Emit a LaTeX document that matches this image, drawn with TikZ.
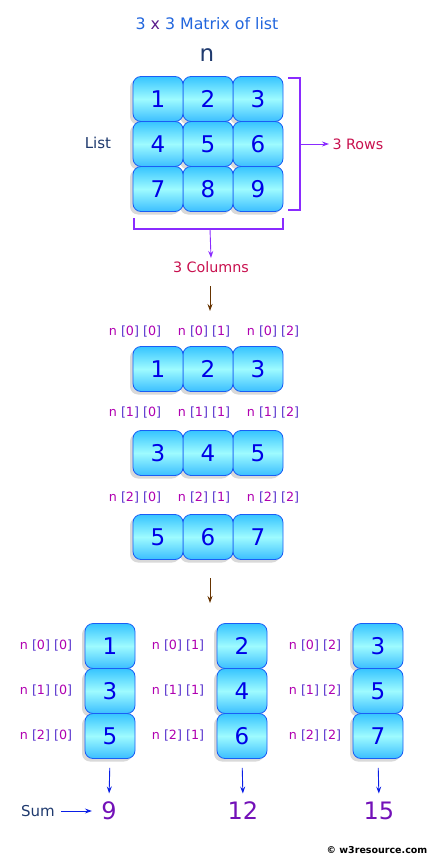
\documentclass[tikz,border=0pt]{standalone}
\usepackage{fontspec}
\setmainfont{DejaVu Sans}
\usetikzlibrary{arrows.meta,shadows}
\definecolor{celltop}{HTML}{36C4FF}
\definecolor{cellmid}{HTML}{9EFBFF}
\definecolor{cellbot}{HTML}{3ABEFF}
\definecolor{cellline}{HTML}{1A5EF5}
\definecolor{cellnum}{HTML}{0000E6}
\definecolor{titleblue}{HTML}{2266DD}
\definecolor{titlex}{HTML}{5A1A8A}
\definecolor{navy}{HTML}{1F3A6E}
\definecolor{crimson}{HTML}{C8104E}
\definecolor{brack}{HTML}{8A2BFF}
\definecolor{brownarr}{HTML}{663300}
\definecolor{idxn}{HTML}{B000B0}
\definecolor{idxb}{HTML}{5530CC}
\definecolor{sumnum}{HTML}{7311B8}
\definecolor{sumarr}{HTML}{0A1EE6}
\newcommand{\ix}[2]{\textcolor{idxn}{n} \textcolor{idxb}{[}\textcolor{idxn}{#1}\textcolor{idxb}{]} \textcolor{idxb}{[}\textcolor{idxn}{#2}\textcolor{idxb}{]}}
\tikzset{
  cell/.style={draw=cellline, line width=0.8pt, rounded corners=8pt,
    minimum width=50pt, minimum height=45pt, inner sep=0pt,
    top color=celltop, bottom color=cellbot, middle color=cellmid,
    drop shadow={shadow xshift=-3pt, shadow yshift=-3pt, opacity=.3},
    text=cellnum, font=\fontsize{23}{23}\selectfont},
  idx/.style={font=\fontsize{12.7}{13}\selectfont},
  tag/.style={text=crimson, font=\fontsize{14.3}{15}\selectfont},
  total/.style={text=sumnum, font=\fontsize{24}{24}\selectfont},
  tip/.style={-{Stealth[length=7pt,width=5pt,inset=2.5pt]}, line width=0.9pt}
}
\begin{document}
\begin{tikzpicture}[x=1pt,y=-1pt]
\useasboundingbox (0,0) rectangle (434,864);
% title
\node[font=\fontsize{15.8}{16}\selectfont] (title) at (207,24) {\textcolor{titleblue}{3} \textcolor{titlex}{x} \textcolor{titleblue}{3 Matrix of list}};
\node[text=navy,font=\fontsize{23}{23}\selectfont] (n) at (207,55) {n};
\node[text=navy,font=\fontsize{15}{15}\selectfont] (list) at (98,143) {List};
% 3 x 3 matrix
\node[cell] (g13) at (258,99) {3};
\node[cell] (g12) at (208,99) {2};
\node[cell] (g11) at (158,99) {1};
\node[cell] (g23) at (258,144) {6};
\node[cell] (g22) at (208,144) {5};
\node[cell] (g21) at (158,144) {4};
\node[cell] (g33) at (258,189) {9};
\node[cell] (g32) at (208,189) {8};
\node[cell] (g31) at (158,189) {7};
% brackets
\coordinate (rb1) at (288,78);
\coordinate (rb2) at (300,78);
\coordinate (rb3) at (300,210);
\coordinate (rb4) at (288,210);
\coordinate (rbm) at (300,144);
\draw[brack,line width=1.6pt] (rb1) -- (rb2) -- (rb3) -- (rb4);
\node[tag,anchor=west] (rows) at (329,144) {3 Rows};
\draw[brack,tip] (rbm) -- (rows.west);
\coordinate (cb1) at (134,218);
\coordinate (cb2) at (134,229);
\coordinate (cb3) at (283,229);
\coordinate (cb4) at (283,218);
\coordinate (cbm) at (210,229);
\draw[brack,line width=1.6pt] (cb1) -- (cb2) -- (cb3) -- (cb4);
\node[tag] (cols) at (211,267) {3 Columns};
\draw[brack,tip] (cbm) -- (cols.north);
\coordinate (d1a) at (210,286);
\coordinate (d1b) at (210,311);
\draw[brownarr,tip] (d1a) -- (d1b);
% rows
\node[idx] (i00) at (135,332) {\ix{0}{0}};
\node[idx] (i01) at (204,332) {\ix{0}{1}};
\node[idx] (i02) at (273,332) {\ix{0}{2}};
\node[cell] (a13) at (258,369) {3};
\node[cell] (a12) at (208,369) {2};
\node[cell] (a11) at (158,369) {1};
\node[idx] (i10) at (135,413) {\ix{1}{0}};
\node[idx] (i11) at (204,413) {\ix{1}{1}};
\node[idx] (i12) at (273,413) {\ix{1}{2}};
\node[cell] (a23) at (258,453) {5};
\node[cell] (a22) at (208,453) {4};
\node[cell] (a21) at (158,453) {3};
\node[idx] (i20) at (135,498) {\ix{2}{0}};
\node[idx] (i21) at (204,498) {\ix{2}{1}};
\node[idx] (i22) at (273,498) {\ix{2}{2}};
\node[cell] (a33) at (258,537) {7};
\node[cell] (a32) at (208,537) {6};
\node[cell] (a31) at (158,537) {5};
\coordinate (d2a) at (210,578);
\coordinate (d2b) at (210,603);
\draw[brownarr,tip] (d2a) -- (d2b);
% columns
\node[cell] (b13) at (378,646) {3};
\node[cell] (b12) at (242,646) {2};
\node[cell] (b11) at (110,646) {1};
\node[cell] (b23) at (378,691) {5};
\node[cell] (b22) at (242,691) {4};
\node[cell] (b21) at (110,691) {3};
\node[cell] (b33) at (378,736) {7};
\node[cell] (b32) at (242,736) {6};
\node[cell] (b31) at (110,736) {5};
\node[idx] (j00) at (46,646) {\ix{0}{0}};
\node[idx] (j10) at (46,691) {\ix{1}{0}};
\node[idx] (j20) at (46,736) {\ix{2}{0}};
\node[idx] (j01) at (178,646) {\ix{0}{1}};
\node[idx] (j11) at (178,691) {\ix{1}{1}};
\node[idx] (j21) at (178,736) {\ix{2}{1}};
\node[idx] (j02) at (315,646) {\ix{0}{2}};
\node[idx] (j12) at (315,691) {\ix{1}{2}};
\node[idx] (j22) at (315,736) {\ix{2}{2}};
% sums
\node[total] (s1) at (109,811) {9};
\node[total] (s2) at (243,811) {12};
\node[total] (s3) at (379,811) {15};
\draw[sumarr,tip,shorten <=9pt,shorten >=5pt] (b31.south) -- (s1.north);
\draw[sumarr,tip,shorten <=9pt,shorten >=5pt] (b32.south) -- (s2.north);
\draw[sumarr,tip,shorten <=9pt,shorten >=5pt] (b33.south) -- (s3.north);
\node[text=navy,font=\fontsize{15}{15}\selectfont] (sum) at (38,811) {Sum};
\draw[sumarr,tip,line width=0.7pt,shorten <=3pt,shorten >=6pt] (sum.east) -- (s1.west);
\node[font=\fontsize{9.5}{10}\selectfont\bfseries] (w3) at (377,850) {© w3resource.com};
\end{tikzpicture}
\end{document}
